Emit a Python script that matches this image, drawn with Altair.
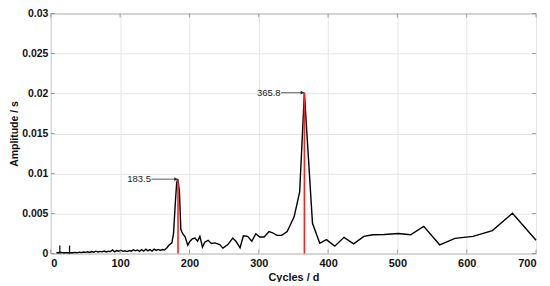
import altair as alt
import pandas as pd

# Main spectrum (cycles per day vs amplitude in s)
cycles = [8, 11, 14, 17, 20, 23, 26, 29, 32, 35, 38, 41, 44, 47, 50, 53, 56, 59, 62, 65,
          68, 71, 74, 77, 80, 83, 86, 89, 92, 95, 98, 101, 104, 107, 110, 113, 116, 119,
          122, 125, 128, 131, 134, 137, 140, 143, 146, 149, 152, 155, 158, 161, 164, 167.5,
          171, 174.6, 177, 179.5, 181.5, 183, 185.5, 187.5, 189, 191, 193.7, 197.5, 200.8,
          204, 208, 211.7, 215, 218.8, 222, 226.9, 231.6, 236.5, 243.6, 248.3, 255.4, 262.5,
          267, 273, 277.8, 283.9, 290, 295.7, 301.4, 307.7, 314.8, 320, 326, 333, 341, 351,
          359, 365.8, 377.5, 388, 397.6, 409.6, 423, 436.8, 451.6, 464.5, 481, 501.5, 519,
          538, 561, 583, 609, 637, 666, 700]
amplitude = [0.0001, 0.0001, 0.00015, 0.0001, 0.0001, 0.00012, 0.0001, 0.00012, 0.0001, 0.00015,
             0.0001, 0.00018, 0.00012, 0.0002, 0.00015, 0.00022, 0.00015, 0.00025, 0.00018, 0.0003,
             0.0002, 0.00028, 0.00022, 0.00032, 0.0002, 0.0003, 0.00025, 0.00045, 0.00022, 0.00038,
             0.0003, 0.00042, 0.00028, 0.00035, 0.00025, 0.00038, 0.0003, 0.00048, 0.00035, 0.00045,
             0.00028, 0.0005, 0.0003, 0.00055, 0.00035, 0.0005, 0.00032, 0.00055, 0.0004, 0.00052,
             0.0004, 0.0005, 0.00045, 0.00073,
             0.0011, 0.00134, 0.0025, 0.0062, 0.0088, 0.0093, 0.0078, 0.0031, 0.0027, 0.0024,
             0.0021, 0.00105, 0.00154, 0.00183, 0.00195, 0.00154, 0.00215, 0.0008, 0.00142,
             0.00166, 0.00126, 0.00134, 0.00113, 0.00068, 0.00113, 0.00195, 0.00154, 0.00073,
             0.00223, 0.00215, 0.00154, 0.00248, 0.00207, 0.00207, 0.00276, 0.0026, 0.00227,
             0.00227, 0.00276, 0.0046, 0.0077, 0.0201, 0.00378, 0.00129, 0.00174, 0.00093,
             0.00203, 0.00122, 0.00215, 0.00235, 0.00239, 0.00251, 0.00235, 0.00341, 0.0011,
             0.0019, 0.00215, 0.00288, 0.00503, 0.00166]

# Isolated low-frequency spikes
spike_x = [13, 27]
spike_y = [0.001, 0.001]

# Marked peaks
peak_x = [183.5, 365.8]
peak_y = [0.0093, 0.0201]
peak_label = ["183.5", "365.8"]
arrow_start = [145, 332]

x_ticks = [0, 100, 200, 300, 400, 500, 600, 700]
y_ticks = [0, 0.005, 0.01, 0.015, 0.02, 0.025, 0.03]

W, H = 487, 241
FONT = "Liberation Sans"

df = pd.DataFrame({"c": cycles, "a": amplitude})
sp = pd.DataFrame({"c": spike_x, "a": spike_y, "z": [0.0] * len(spike_x)})
pk = pd.DataFrame({"c": peak_x, "a": peak_y, "lab": peak_label, "s": arrow_start,
                   "z": [0.0] * len(peak_x)})
xt = pd.DataFrame({"c": x_ticks})
yt = pd.DataFrame({"a": y_ticks})

xs = alt.Scale(domain=[0, 700], nice=False)
ys = alt.Scale(domain=[0, 0.03], nice=False)

xax = alt.Axis(values=x_ticks, title="Cycles / d", grid=True, ticks=False, domain=False,
               labelFont=FONT, labelFontWeight="bold", labelFontSize=11, labelColor="#111",
               titleFont=FONT, titleFontWeight="bold", titleFontSize=11, titleColor="#111",
               labelPadding=4, titlePadding=3, gridColor="#e6e6e6")
yax = alt.Axis(values=y_ticks, title="Amplitude / s", grid=True, ticks=False, domain=False,
               labelFont=FONT, labelFontWeight="bold", labelFontSize=10.5, labelColor="#111",
               titleFont=FONT, titleFontWeight="bold", titleFontSize=10.5, titleColor="#111",
               labelPadding=3, titlePadding=2, gridColor="#e6e6e6",
               labelExpr="format(datum.value, '~g')")

line = alt.Chart(df).mark_line(color="black", strokeWidth=1.4).encode(
    x=alt.X("c:Q", scale=xs, axis=xax),
    y=alt.Y("a:Q", scale=ys, axis=yax),
)

spikes = alt.Chart(sp).mark_rule(color="black", strokeWidth=1.2).encode(
    x="c:Q", y="z:Q", y2="a:Q"
)

red = alt.Chart(pk).mark_rule(color="#ff2020", strokeWidth=1.6).encode(
    x="c:Q", y="z:Q", y2="a:Q"
)

arrows = alt.Chart(pk).mark_rule(color="#333", strokeWidth=0.8).encode(
    x="s:Q", x2="c:Q", y="a:Q"
)
heads = alt.Chart(pk).transform_calculate(hx="datum.c - 3").mark_point(
    shape="triangle-right", filled=True, color="#222", size=14, opacity=1
).encode(x="hx:Q", y="a:Q")

labels = alt.Chart(pk).transform_calculate(tx="datum.s - 0.5").mark_text(
    align="right", baseline="middle", font=FONT, fontSize=9.5, color="#222"
).encode(x="tx:Q", y="a:Q", text="lab:N")

# inward ticks (MATLAB-style box)
tb = alt.Chart(xt).mark_rule(color="#888", strokeWidth=0.8).encode(
    x="c:Q", y=alt.value(H), y2=alt.value(H - 4))
tt = alt.Chart(xt).mark_rule(color="#888", strokeWidth=0.8).encode(
    x="c:Q", y=alt.value(0), y2=alt.value(4))
tl = alt.Chart(yt).mark_rule(color="#888", strokeWidth=0.8).encode(
    y="a:Q", x=alt.value(0), x2=alt.value(4))
tr = alt.Chart(yt).mark_rule(color="#888", strokeWidth=0.8).encode(
    y="a:Q", x=alt.value(W), x2=alt.value(W - 4))

chart = alt.layer(line, spikes, red, arrows, heads, labels, tb, tt, tl, tr).properties(
    width=W, height=H,
    padding={"left": 43, "top": 5, "right": 6, "bottom": 28},
    autosize=alt.AutoSizeParams(type="none"),
    background="white",
).configure_view(stroke="#8a8a8a", strokeWidth=1)

chart.save("out.html", embed_options={"renderer": "svg", "actions": False})
